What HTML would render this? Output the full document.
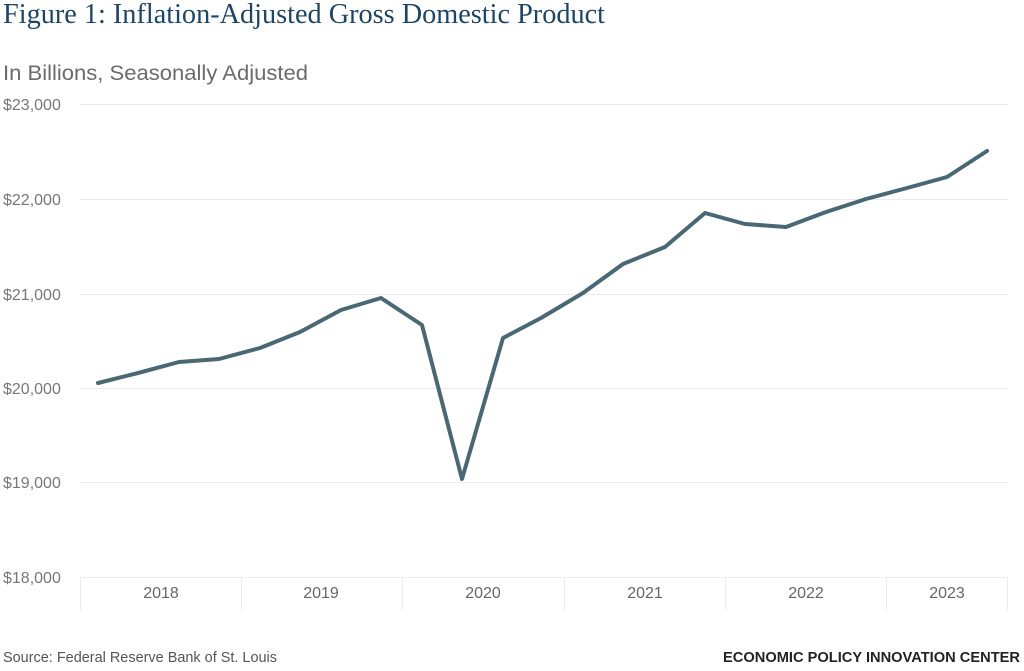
<!DOCTYPE html>
<html><head><style>
body{margin:0;background:#fff;}
svg{display:block;}
</style></head><body>
<svg width="1024" height="671" xmlns="http://www.w3.org/2000/svg">
<text x="3" y="23" font-family="Liberation Serif, serif" font-size="28" fill="#1f4566" textLength="602" lengthAdjust="spacingAndGlyphs">Figure 1: Inflation-Adjusted Gross Domestic Product</text>
<text x="3" y="80" font-family="Liberation Sans, sans-serif" font-size="21" fill="#6b6b6b" textLength="305" lengthAdjust="spacingAndGlyphs">In Billions, Seasonally Adjusted</text>
<g font-family="Liberation Sans, sans-serif" font-size="16" fill="#777">
<text x="3" y="110">$23,000</text>
<text x="3" y="205">$22,000</text>
<text x="3" y="300">$21,000</text>
<text x="3" y="394">$20,000</text>
<text x="3" y="488">$19,000</text>
<text x="3" y="583">$18,000</text>
</g>
<g stroke="#ebebeb" stroke-width="1">
<line x1="80" x2="1008" y1="104.5" y2="104.5"/>
<line x1="80" x2="1008" y1="199.5" y2="199.5"/>
<line x1="80" x2="1008" y1="294.5" y2="294.5"/>
<line x1="80" x2="1008" y1="388.5" y2="388.5"/>
<line x1="80" x2="1008" y1="482.5" y2="482.5"/>
<line x1="80" x2="1008" y1="577.5" y2="577.5"/>
<line x1="80.5" x2="80.5" y1="577" y2="610"/>
<line x1="241.5" x2="241.5" y1="577" y2="610"/>
<line x1="402.5" x2="402.5" y1="577" y2="610"/>
<line x1="564.5" x2="564.5" y1="577" y2="610"/>
<line x1="725.5" x2="725.5" y1="577" y2="610"/>
<line x1="886.5" x2="886.5" y1="577" y2="610"/>
<line x1="1007.5" x2="1007.5" y1="577" y2="610"/>
</g>
<g font-family="Liberation Sans, sans-serif" font-size="16" fill="#666" text-anchor="middle">
<text x="161" y="598">2018</text>
<text x="321" y="598">2019</text>
<text x="483" y="598">2020</text>
<text x="645" y="598">2021</text>
<text x="806" y="598">2022</text>
<text x="947" y="598">2023</text>
</g>
<polyline fill="none" stroke="#4a6774" stroke-width="4" stroke-linejoin="round" stroke-linecap="round"
points="98,383 138,373 179,362 219,359 260,348 300,332 341,310 381,298 422,325 462,479 503,338 541,318 583,293 623,264 665,247 705,213 745,224 786,227 826,212 866,199 907,188 947,177 987,151"/>
<text x="3" y="662" font-family="Liberation Sans, sans-serif" font-size="14.5" fill="#555" textLength="274" lengthAdjust="spacingAndGlyphs">Source: Federal Reserve Bank of St. Louis</text>
<text x="1020" y="662" font-family="Liberation Sans, sans-serif" font-size="14.5" font-weight="bold" fill="#222" text-anchor="end" textLength="297" lengthAdjust="spacingAndGlyphs">ECONOMIC POLICY INNOVATION CENTER</text>
</svg>
</body></html>
